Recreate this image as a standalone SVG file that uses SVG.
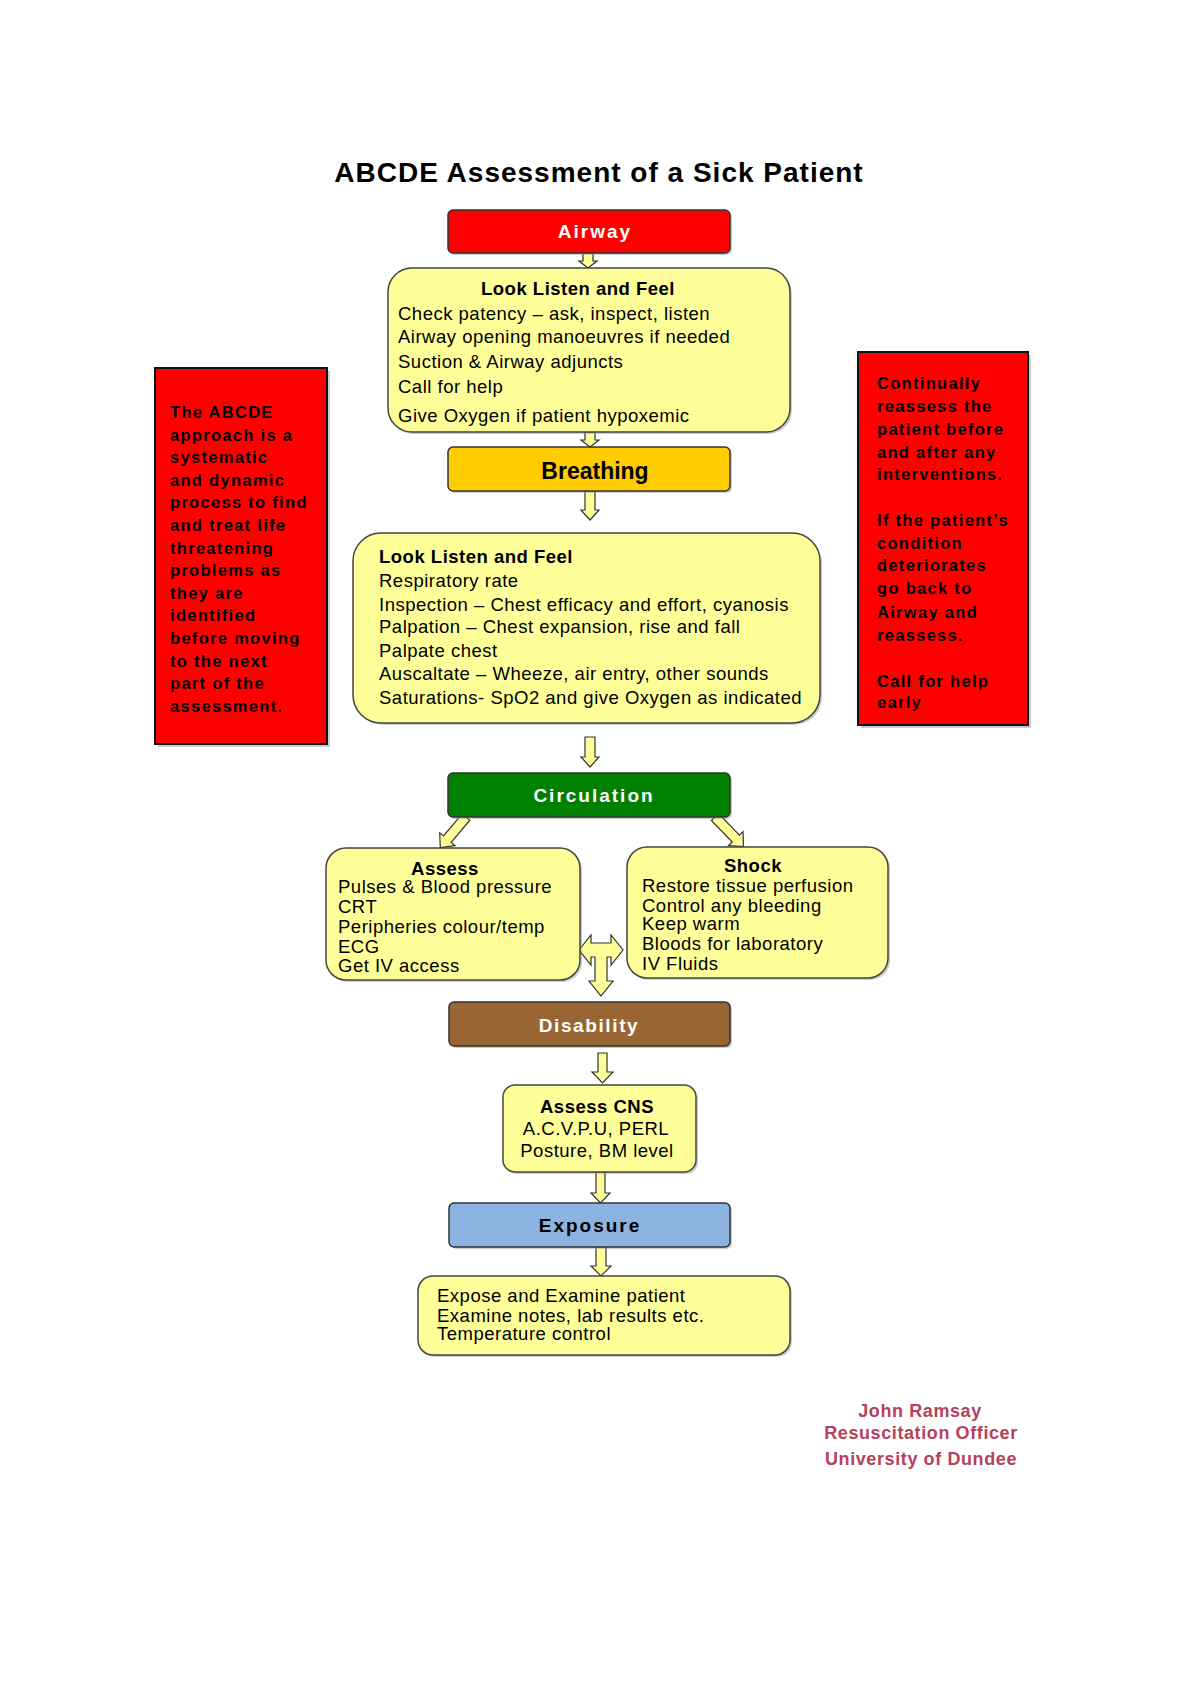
<svg xmlns="http://www.w3.org/2000/svg" width="1200" height="1698" viewBox="0 0 1200 1698">
<style>
text{font-family:"Liberation Sans",Arial,sans-serif;fill:#000}
.title{font-size:28px;font-weight:bold;letter-spacing:1px}
.hdr{font-size:19px;font-weight:bold;letter-spacing:2px;text-anchor:middle}
.wt{fill:#fff}
.body{font-size:18.5px;letter-spacing:0.5px}
.bb{font-size:18.5px;font-weight:bold;letter-spacing:0.5px}
.mid{text-anchor:middle}
.side{font-size:16.5px;font-weight:bold;letter-spacing:1.3px}
.auth{font-size:18px;font-weight:bold;letter-spacing:0.6px;fill:#b5415b;text-anchor:middle}
.hbox{stroke:#333;stroke-width:1.5}
.ybox{fill:#ffff99;stroke:#444;stroke-width:1.5}
.shadow{fill:#999;opacity:0.5}
.arr{fill:#ffff99;stroke:#333;stroke-width:1.2;stroke-linejoin:miter}
</style>
<rect width="1200" height="1698" fill="#fff"/>
<text class="title" x="599" y="182" text-anchor="middle">ABCDE Assessment of a Sick Patient</text>

<g id="note-left">
<rect class="shadow" x="158" y="371" width="172" height="376"/>
<rect x="155" y="368" width="172" height="376" fill="#ff0000" stroke="#111" stroke-width="2"/>
<text class="side" x="170" y="418">The ABCDE</text>
<text class="side" x="170" y="440.6">approach is a</text>
<text class="side" x="170" y="463.2">systematic</text>
<text class="side" x="170" y="485.8">and dynamic</text>
<text class="side" x="170" y="508.4">process to find</text>
<text class="side" x="170" y="531">and treat life</text>
<text class="side" x="170" y="553.6">threatening</text>
<text class="side" x="170" y="576.2">problems as</text>
<text class="side" x="170" y="598.8">they are</text>
<text class="side" x="170" y="621.4">identified</text>
<text class="side" x="170" y="644">before moving</text>
<text class="side" x="170" y="666.6">to the next</text>
<text class="side" x="170" y="689.2">part of the</text>
<text class="side" x="170" y="711.8">assessment.</text>
</g>

<g id="note-right">
<rect class="shadow" x="861" y="355" width="170" height="373"/>
<rect x="858" y="352" width="170" height="373" fill="#ff0000" stroke="#111" stroke-width="2"/>
<text class="side" x="877" y="389">Continually</text>
<text class="side" x="877" y="412">reassess the</text>
<text class="side" x="877" y="435">patient before</text>
<text class="side" x="877" y="458">and after any</text>
<text class="side" x="877" y="480">interventions.</text>
<text class="side" x="877" y="526">If the patient’s</text>
<text class="side" x="877" y="549">condition</text>
<text class="side" x="877" y="571">deteriorates</text>
<text class="side" x="877" y="594">go back to</text>
<text class="side" x="877" y="618">Airway and</text>
<text class="side" x="877" y="641">reassess.</text>
<text class="side" x="877" y="687">Call for help</text>
<text class="side" x="877" y="708">early</text>
</g>

<g id="connectors">
<path class="arr" d="M583 253 L593 253 L593 261 L597 261 L588 268 L579 261 L583 261 Z"/>
<path class="arr" d="M585 432 L595 432 L595 440 L599 440 L590 447 L581 440 L585 440 Z"/>
<path class="arr" d="M585 491 L595 491 L595 510 L599 510 L590 520 L581 510 L585 510 Z"/>
<path class="arr" d="M585 737 L595 737 L595 757 L599 757 L590 767 L581 757 L585 757 Z"/>
<path class="arr" transform="rotate(40 466 817)" d="M461 817 L471 817 L471 846 L476 846 L466 857 L456 846 L461 846 Z"/>
<path class="arr" transform="rotate(-44 715 817)" d="M710 817 L720 817 L720 847 L725 847 L715 858 L705 847 L710 847 Z"/>
<path class="arr" d="M579 950 L591 935 L591 943 L611 943 L611 935 L623 950 L611 965 L611 957 L607 957 L607 981 L613 981 L601 996 L589 981 L595 981 L595 957 L591 957 L591 965 Z"/>
<path class="arr" d="M598 1053 L607 1053 L607 1072 L613 1072 L602.5 1083 L592 1072 L598 1072 Z"/>
<path class="arr" d="M596 1172 L605 1172 L605 1193 L610 1193 L600.5 1203 L591 1193 L596 1193 Z"/>
<path class="arr" d="M596 1247 L606 1247 L606 1266 L611 1266 L601 1276 L591 1266 L596 1266 Z"/>
</g>

<g id="airway">
<rect class="shadow" x="450" y="212" width="282" height="43" rx="5"/>
<rect class="hbox" x="448" y="210" width="282" height="43" rx="5" fill="#ff0000"/>
<text class="hdr wt" x="595" y="238">Airway</text>
</g>

<g id="airway-detail">
<rect class="shadow" x="390" y="270" width="402" height="164" rx="24"/>
<rect class="ybox" x="388" y="268" width="402" height="164" rx="24"/>
<text class="bb mid" x="578" y="295">Look Listen and Feel</text>
<text class="body" x="398" y="320">Check patency – ask, inspect, listen</text>
<text class="body" x="398" y="343">Airway opening manoeuvres if needed</text>
<text class="body" x="398" y="368">Suction &amp; Airway adjuncts</text>
<text class="body" x="398" y="393">Call for help</text>
<text class="body" x="398" y="422">Give Oxygen if patient hypoxemic</text>
</g>

<g id="breathing">
<rect class="shadow" x="450" y="449" width="282" height="44" rx="5"/>
<rect class="hbox" x="448" y="447" width="282" height="44" rx="5" fill="#ffcc00"/>
<text x="595" y="479" text-anchor="middle" font-size="23" font-weight="bold">Breathing</text>
</g>

<g id="breathing-detail">
<rect class="shadow" x="355" y="535" width="467" height="190" rx="28"/>
<rect class="ybox" x="353" y="533" width="467" height="190" rx="28"/>
<text class="bb" x="379" y="563">Look Listen and Feel</text>
<text class="body" x="379" y="587">Respiratory rate</text>
<text class="body" x="379" y="611">Inspection – Chest efficacy and effort, cyanosis</text>
<text class="body" x="379" y="633">Palpation – Chest expansion, rise and fall</text>
<text class="body" x="379" y="657">Palpate chest</text>
<text class="body" x="379" y="680">Auscaltate – Wheeze, air entry, other sounds</text>
<text class="body" x="379" y="704">Saturations- SpO2 and give Oxygen as indicated</text>
</g>

<g id="circulation">
<rect class="shadow" x="450" y="775" width="282" height="44" rx="5"/>
<rect class="hbox" x="448" y="773" width="282" height="44" rx="5" fill="#008000"/>
<text class="hdr wt" x="594" y="802">Circulation</text>
</g>

<g id="assess">
<rect class="shadow" x="328" y="850" width="254" height="132" rx="20"/>
<rect class="ybox" x="326" y="848" width="254" height="132" rx="20"/>
<text class="bb mid" x="445" y="875">Assess</text>
<text class="body" x="338" y="893">Pulses &amp; Blood pressure</text>
<text class="body" x="338" y="913">CRT</text>
<text class="body" x="338" y="933">Peripheries colour/temp</text>
<text class="body" x="338" y="953">ECG</text>
<text class="body" x="338" y="972">Get IV access</text>
</g>

<g id="shock">
<rect class="shadow" x="629" y="849" width="261" height="131" rx="20"/>
<rect class="ybox" x="627" y="847" width="261" height="131" rx="20"/>
<text class="bb mid" x="753" y="872">Shock</text>
<text class="body" x="642" y="892">Restore tissue perfusion</text>
<text class="body" x="642" y="912">Control any bleeding</text>
<text class="body" x="642" y="930">Keep warm</text>
<text class="body" x="642" y="950">Bloods for laboratory</text>
<text class="body" x="642" y="970">IV Fluids</text>
</g>

<g id="disability">
<rect class="shadow" x="451" y="1004" width="281" height="44" rx="5"/>
<rect class="hbox" x="449" y="1002" width="281" height="44" rx="5" fill="#996633"/>
<text class="hdr wt" x="589" y="1032" style="letter-spacing:1.6px">Disability</text>
</g>

<g id="cns">
<rect class="shadow" x="505" y="1087" width="193" height="87" rx="12"/>
<rect class="ybox" x="503" y="1085" width="193" height="87" rx="12"/>
<text class="bb mid" x="597" y="1113">Assess CNS</text>
<text class="body mid" x="596" y="1135">A.C.V.P.U, PERL</text>
<text class="body mid" x="597" y="1157">Posture, BM level</text>
</g>

<g id="exposure">
<rect class="shadow" x="451" y="1205" width="281" height="44" rx="5"/>
<rect class="hbox" x="449" y="1203" width="281" height="44" rx="5" fill="#8db3e2"/>
<text class="hdr" x="590" y="1232">Exposure</text>
</g>

<g id="exposure-detail">
<rect class="shadow" x="420" y="1278" width="372" height="79" rx="15"/>
<rect class="ybox" x="418" y="1276" width="372" height="79" rx="15"/>
<text class="body" x="437" y="1302">Expose and Examine patient</text>
<text class="body" x="437" y="1322">Examine notes, lab results etc.</text>
<text class="body" x="437" y="1340">Temperature control</text>
</g>

<g id="author">
<text class="auth" x="920" y="1417">John Ramsay</text>
<text class="auth" x="921" y="1439">Resuscitation Officer</text>
<text class="auth" x="921" y="1465">University of Dundee</text>
</g>
</svg>
